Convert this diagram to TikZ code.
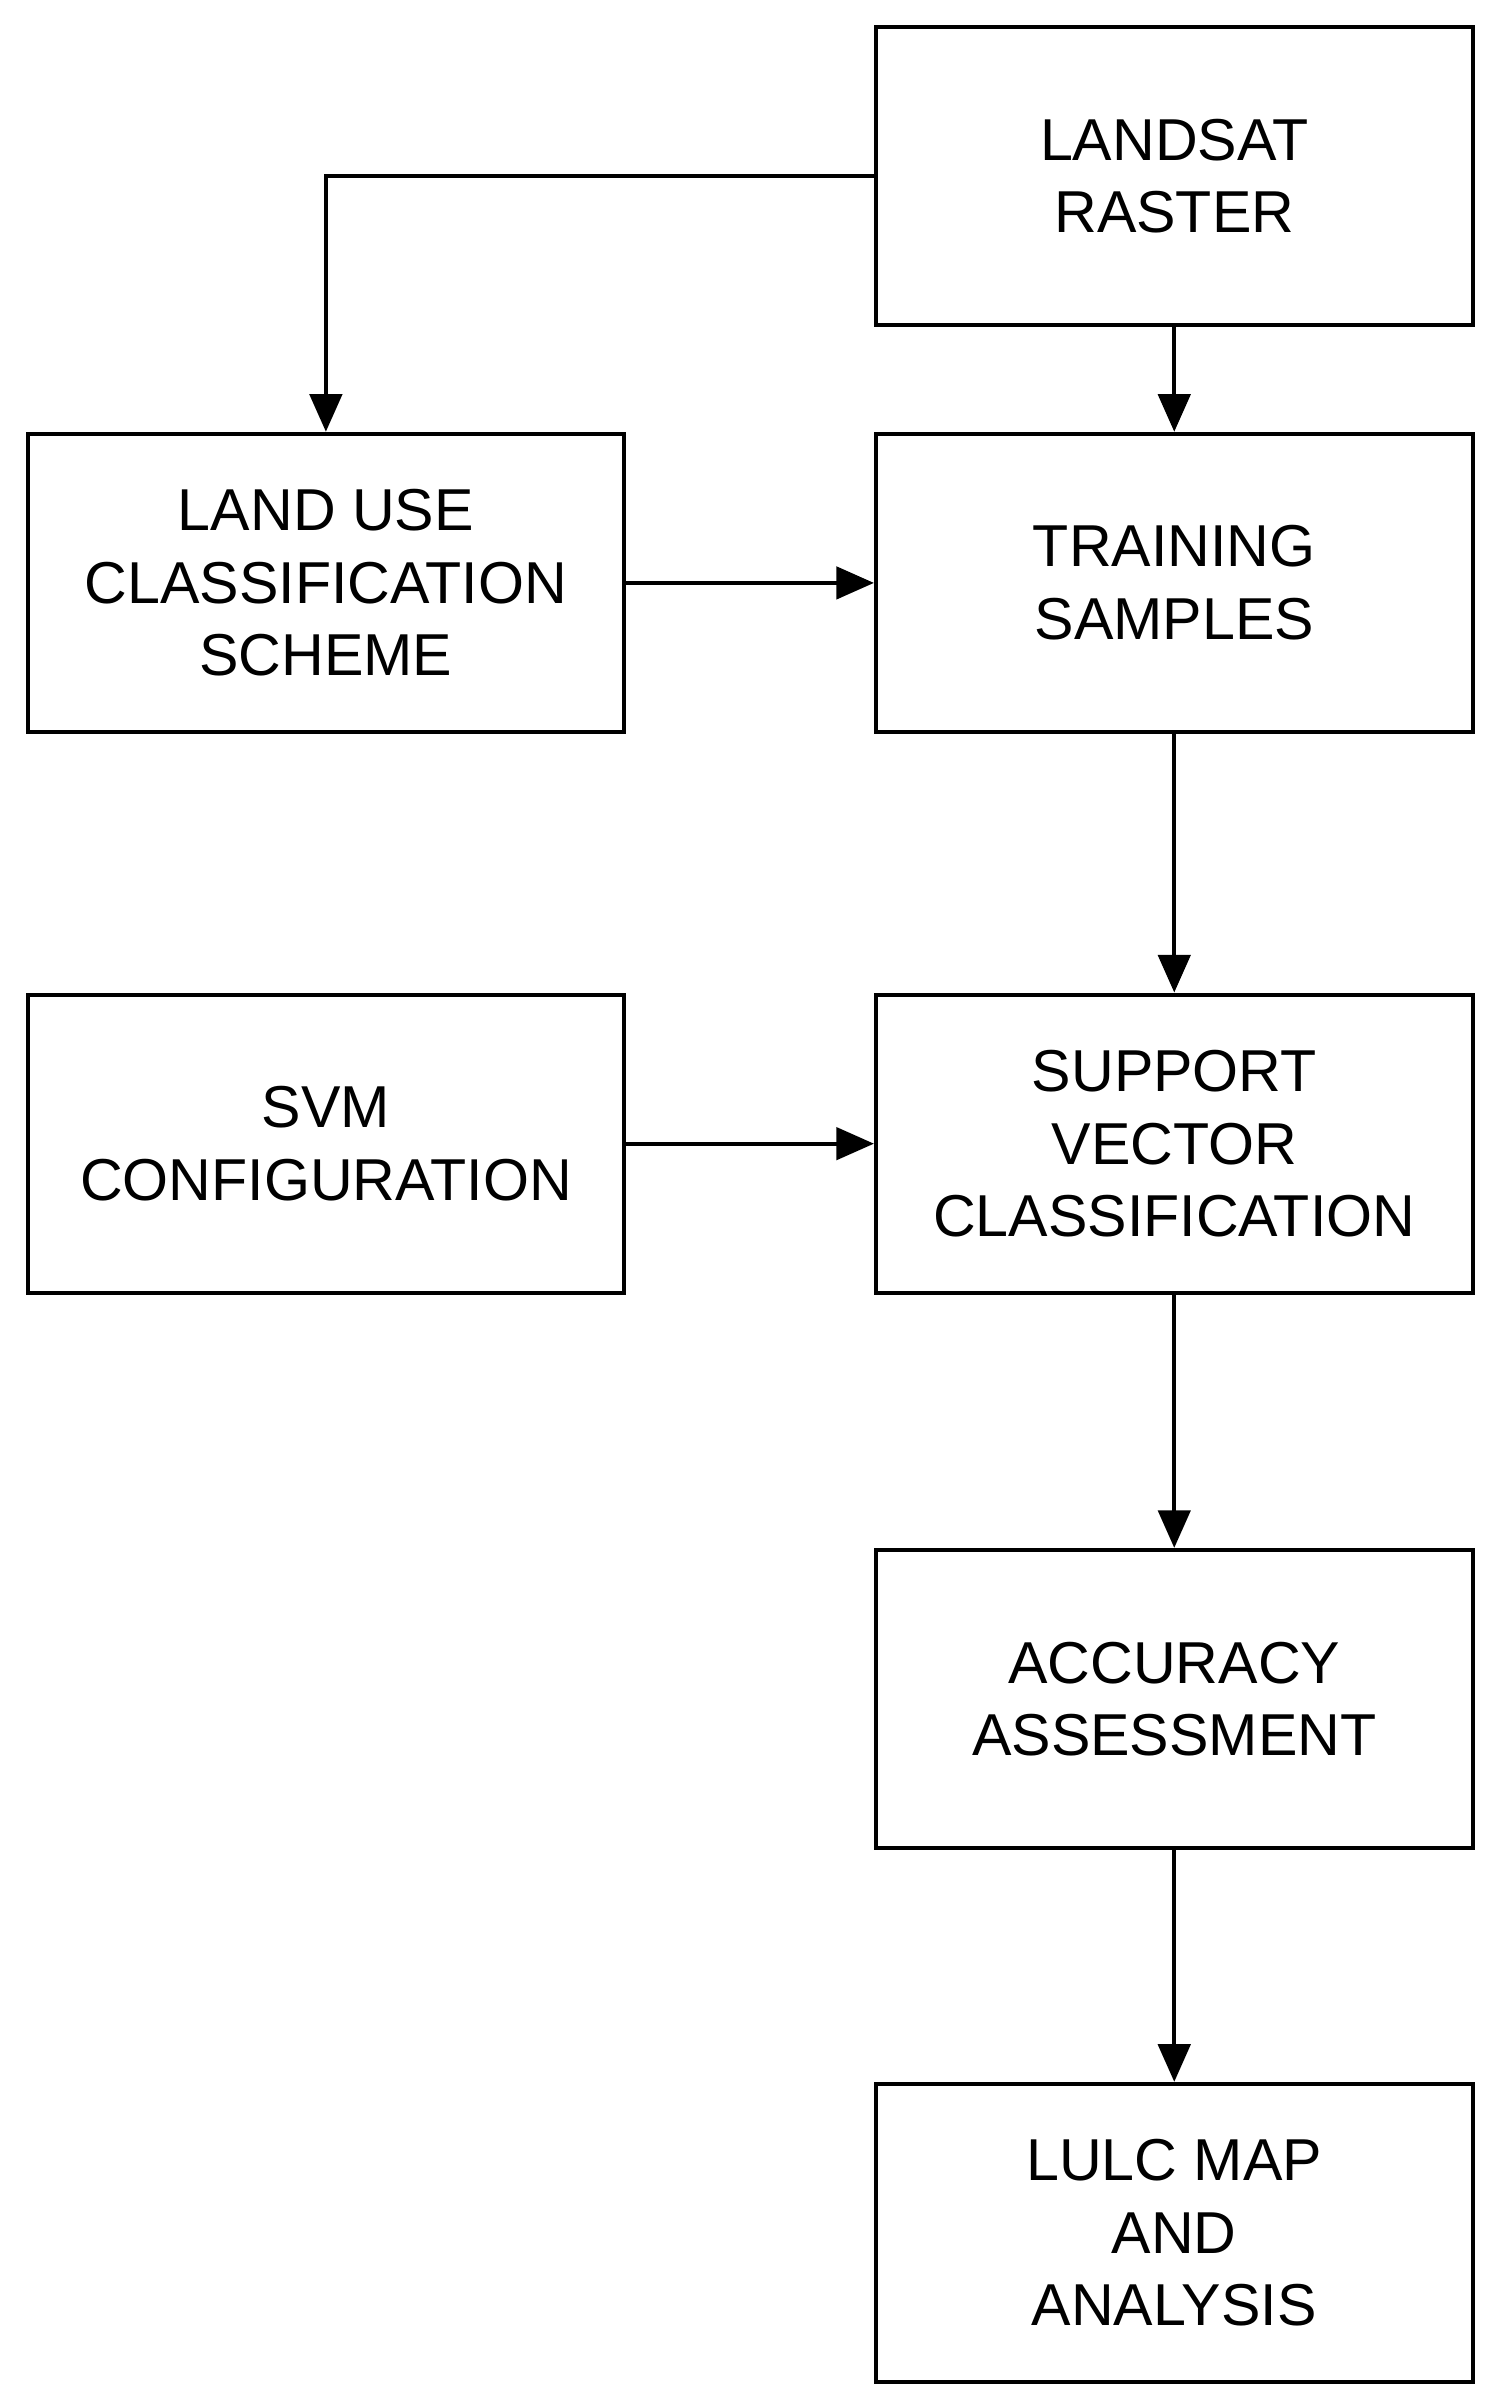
\documentclass[tikz,border=0pt]{standalone}
\usepackage{fontspec}
\setmainfont{Liberation Sans}
\usetikzlibrary{arrows.meta}
\begin{document}
\begin{tikzpicture}[x=0.02cm,y=-0.02cm,
  box/.style={draw,line width=1.5pt,minimum width=7.8cm,minimum height=3.9cm,align=center,inner sep=0pt,font=\fontsize{22}{27}\selectfont},
  arr/.style={line width=1.5pt,-{Triangle[length=14pt,width=12pt]}}]
\useasboundingbox (0,0) rectangle (982,1568);
\node[box] (ls) at (767.5,115) {LANDSAT\\RASTER};
\node[box] (lu) at (213,381) {LAND USE\\CLASSIFICATION\\SCHEME};
\node[box] (ts) at (767.5,381) {TRAINING\\SAMPLES};
\node[box] (svm) at (213,747.5) {SVM\\CONFIGURATION};
\node[box] (svc) at (767.5,747.5) {SUPPORT\\VECTOR\\CLASSIFICATION};
\node[box] (acc) at (767.5,1110.5) {ACCURACY\\ASSESSMENT};
\node[box] (map) at (767.5,1459.5) {LULC MAP\\AND\\ANALYSIS};
\draw[arr] (ls.west) -| (lu.north);
\draw[arr] (ls) -- (ts);
\draw[arr] (lu) -- (ts);
\draw[arr] (ts) -- (svc);
\draw[arr] (svm) -- (svc);
\draw[arr] (svc) -- (acc);
\draw[arr] (acc) -- (map);
\end{tikzpicture}
\end{document}
